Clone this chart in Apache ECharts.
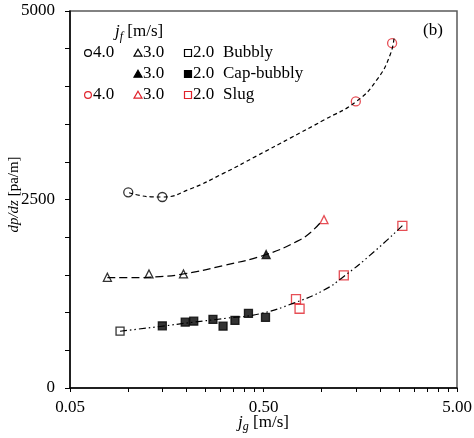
<!DOCTYPE html>
<html>
<head>
<meta charset="utf-8">
<script src="https://cdn.jsdelivr.net/npm/echarts@6/dist/echarts.min.js"></script>
<style>
  html, body { margin: 0; padding: 0; background: #fff; }
  #chart { width: 474px; height: 438px; }
</style>
</head>
<body>
<div id="chart"></div>
<script>
// measured points [jg (m/s), dp/dz (pa/m)]
const bubbly40 = [[0.100, 2595], [0.150, 2533]];
const bubbly30 = [[0.078, 1468], [0.128, 1513], [0.193, 1513]];
const bubbly20 = [[0.0907, 753]];
const capBubbly30 = [[0.516, 1770]];
const capBubbly20 = [[0.150, 825], [0.197, 873], [0.218, 886], [0.274, 909],
                     [0.309, 820], [0.356, 896], [0.418, 989], [0.512, 936]];
const slug40 = [[1.50, 3801], [2.31, 4573]];
const slug30 = [[1.027, 2233]];
const slug20 = [[0.736, 1179], [0.768, 1051], [1.30, 1495], [2.61, 2151]];

// fitted trend lines
const fit40 = [[0.101, 2590], [0.115, 2553], [0.131, 2536], [0.150, 2533], [0.209, 2640],
               [0.31, 2846], [0.462, 3079], [0.687, 3314], [1.02, 3551], [1.51, 3801],
               [1.93, 4090], [2.26, 4423], [2.37, 4672]];
const fit30 = [[0.078, 1464], [0.102, 1464], [0.146, 1477], [0.193, 1513], [0.31, 1624],
               [0.516, 1770], [0.744, 1945], [0.872, 2060], [1.0, 2215]];
const fit20 = [[0.0907, 753], [0.146, 816], [0.217, 873], [0.323, 926], [0.48, 985],
               [0.715, 1126], [1.02, 1295], [1.30, 1480], [1.85, 1800], [2.64, 2165]];

// axis ticks
const xLabels = [0.05, 0.5, 5];
const xTicks = [0.05, 0.1, 0.15, 0.2, 0.25, 0.3, 0.35, 0.4, 0.45,
                0.5, 1, 1.5, 2, 2.5, 3, 3.5, 4, 4.5, 5];
const yLabels = [0, 2500, 5000];
const yTicks = [0, 500, 1000, 1500, 2000, 2500, 3000, 3500, 4000, 4500, 5000];

const FONT = '"Liberation Serif", "Times New Roman", serif';
const RED = '#e0222b';

var chart = echarts.init(document.getElementById('chart'));

function marks(name, data, symbol, color, filled, size) {
  return {
    name: name,
    type: 'scatter',
    data: data,
    symbol: symbol,
    symbolSize: size || 8,
    z: 3,
    itemStyle: {
      color: filled ? color : 'rgba(0,0,0,0)',
      borderColor: color,
      borderWidth: 1.3
    }
  };
}

function fit(data, dash) {
  return {
    type: 'line',
    data: data,
    smooth: 0.5,
    showSymbol: false,
    silent: true,
    z: 4,
    lineStyle: { color: '#000', width: 1.2, type: dash }
  };
}

// legend block drawn as graphics
var legendGraphics = [];
function legMark(shape, x, y, color, filled) {
  var style = { fill: filled ? color : 'none', stroke: color, lineWidth: 1.2 };
  if (shape === 'circle') {
    legendGraphics.push({ type: 'circle', shape: { cx: x, cy: y, r: 3.4 }, style: style });
  } else if (shape === 'triangle') {
    legendGraphics.push({ type: 'polygon', shape: { points: [[x, y - 3.8], [x + 4, y + 3.2], [x - 4, y + 3.2]] }, style: style });
  } else {
    legendGraphics.push({ type: 'rect', shape: { x: x - 3.5, y: y - 3.5, width: 7, height: 7 }, style: style });
  }
}
function legText(txt, x, y) {
  legendGraphics.push({
    type: 'text', x: x, y: y,
    style: { text: txt, font: '17px ' + FONT, fill: '#000', verticalAlign: 'middle', align: 'left' }
  });
}
var rows = [
  { y: 53, items: [['circle', '4.0', false, '#000'], ['triangle', '3.0', false, '#000'], ['rect', '2.0', false, '#000']], label: 'Bubbly' },
  { y: 74, items: [null, ['triangle', '3.0', true, '#000'], ['rect', '2.0', true, '#000']], label: 'Cap-bubbly' },
  { y: 95, items: [['circle', '4.0', false, RED], ['triangle', '3.0', false, RED], ['rect', '2.0', false, RED]], label: 'Slug' }
];
var colX = [88, 138, 188];
rows.forEach(function (r) {
  r.items.forEach(function (it, i) {
    if (!it) return;
    legMark(it[0], colX[i], r.y, it[3], it[2]);
    legText(it[1], colX[i] + 5, r.y);
  });
  legText(r.label, 223, r.y);
});
legendGraphics.push({
  type: 'text', x: 115, y: 32,
  style: {
    text: '{i|j}{s|f}{n| [m/s]}',
    verticalAlign: 'middle',
    rich: {
      i: { fontFamily: FONT, fontSize: 17, fontStyle: 'italic', fill: '#000' },
      s: { fontFamily: FONT, fontSize: 12, fontStyle: 'italic', fill: '#000', padding: [9, 0, 0, 0] },
      n: { fontFamily: FONT, fontSize: 17, fill: '#000' }
    }
  }
});
legendGraphics.push({
  type: 'text', x: 423, y: 31,
  style: { text: '(b)', font: '17px ' + FONT, fill: '#000', verticalAlign: 'middle' }
});

chart.setOption({
  animation: false,
  backgroundColor: '#fff',
  grid: {
    left: 70, right: 17, top: 11, bottom: 50,
    containLabel: false,
    outerBoundsMode: 'none',
    show: true, borderColor: '#595959', borderWidth: 1.5, backgroundColor: 'transparent'
  },
  xAxis: {
    type: 'log',
    logBase: 10,
    min: 0.05,
    max: 5,
    name: '{i|j}{s|g}{n| [m/s]}',
    nameLocation: 'middle',
    nameGap: 24,
    nameMoveOverlap: false,
    nameTextStyle: {
      verticalAlign: 'top',
      rich: {
        i: { fontFamily: FONT, fontSize: 17, fontStyle: 'italic', color: '#000' },
        s: { fontFamily: FONT, fontSize: 12, fontStyle: 'italic', color: '#000', padding: [9, 0, 0, 0] },
        n: { fontFamily: FONT, fontSize: 17, color: '#000' }
      }
    },
    axisLine: { lineStyle: { color: '#000', width: 1.5 } },
    axisTick: { customValues: xTicks, length: 4, lineStyle: { color: '#000', width: 1 } },
    axisLabel: {
      customValues: xLabels,
      margin: 11,
      fontFamily: FONT, fontSize: 17, color: '#000',
      formatter: function (v) { return Number(v).toFixed(2); }
    },
    splitLine: { show: false },
    minorTick: { show: false }
  },
  yAxis: {
    type: 'value',
    min: 0,
    max: 5000,
    interval: 500,
    name: '{i|dp/dz}{n| [pa/m]}',
    nameLocation: 'middle',
    nameGap: 48,
    nameMoveOverlap: false,
    nameTextStyle: {
      padding: [0, 0, 0, 10],
      rich: {
        i: { fontFamily: FONT, fontSize: 15, fontStyle: 'italic', color: '#000' },
        n: { fontFamily: FONT, fontSize: 15, color: '#000' }
      }
    },
    axisLine: { show: true, lineStyle: { color: '#000', width: 1.5 } },
    axisTick: { show: true, customValues: yTicks, length: 5, lineStyle: { color: '#000', width: 1 } },
    axisLabel: {
      customValues: yLabels,
      margin: 15,
      fontFamily: FONT, fontSize: 17, color: '#000',
      formatter: function (v) { return String(v); }
    },
    splitLine: { show: false }
  },
  graphic: legendGraphics,
  series: [
    fit(fit40, [4, 3]),
    fit(fit30, [8, 4]),
    fit(fit20, [7, 3, 1.5, 3, 1.5, 3]),
    marks('Bubbly 4.0', bubbly40, 'circle', '#000', false, 9),
    marks('Bubbly 3.0', bubbly30, 'triangle', '#000', false, 8),
    marks('Bubbly 2.0', bubbly20, 'rect', '#000', false, 8),
    marks('Cap-bubbly 3.0', capBubbly30, 'triangle', '#000', true, 8),
    marks('Cap-bubbly 2.0', capBubbly20, 'rect', '#000', true, 8),
    marks('Slug 4.0', slug40, 'circle', RED, false, 9),
    marks('Slug 3.0', slug30, 'triangle', RED, false, 8),
    marks('Slug 2.0', slug20, 'rect', RED, false, 9)
  ]
});
</script>
</body>
</html>
